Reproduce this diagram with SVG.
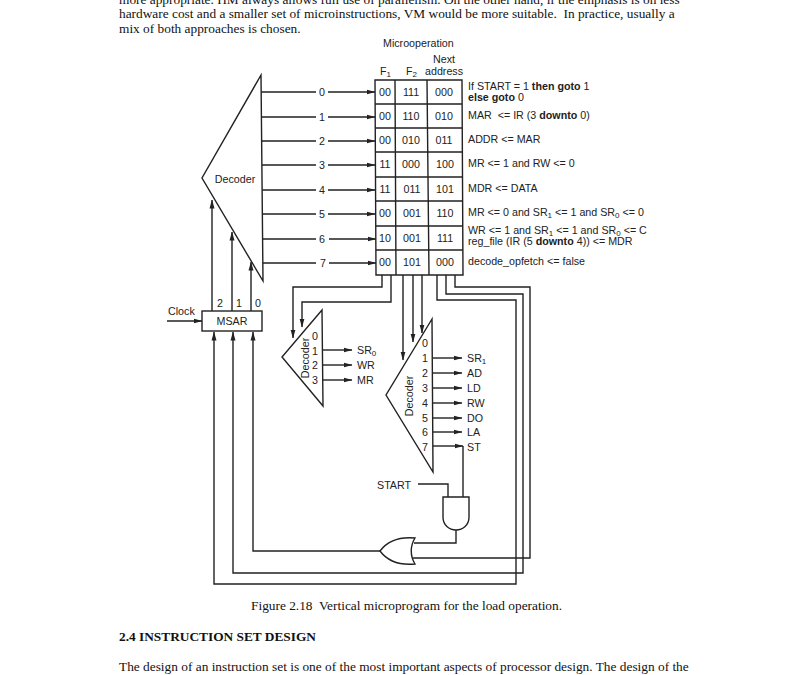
<svg xmlns="http://www.w3.org/2000/svg" width="806" height="675" viewBox="0 0 806 675">
<style>
.s{font-family:"Liberation Serif","Times New Roman",serif;font-size:13.35px;fill:#111;white-space:pre}
.t{font-family:"Liberation Sans",Arial,sans-serif;font-size:10.7px;fill:#222}
.c{text-anchor:middle}
.b{font-weight:bold}
.l{fill:none;stroke:#222;stroke-width:1.4}
.n{fill:#fff;stroke:#222;stroke-width:1.4}
</style>
<defs><marker id="a" markerWidth="9" markerHeight="6" refX="8.5" refY="3" orient="auto" markerUnits="userSpaceOnUse"><path d="M0 0.5L9 3L0 5.5Z" fill="#222"/></marker></defs>
<rect width="806" height="675" fill="#fff"/>
<g id="page-text">
<text class="s" x="119" y="4">more appropriate. HM always allows full use of parallelism. On the other hand, if the emphasis is on less</text>
<text class="s" x="119" y="18">hardware cost and a smaller set of microinstructions, VM would be more suitable.  In practice, usually a</text>
<text class="s" x="119" y="33">mix of both approaches is chosen.</text>
<text class="s" x="251" y="610">Figure 2.18  Vertical microprogram for the load operation.</text>
<text class="s b" x="119" y="641">2.4 INSTRUCTION SET DESIGN</text>
<text class="s" x="119" y="671">The design of an instruction set is one of the most important aspects of processor design. The design of the</text>
</g>
<g id="connectors">
<path class="l" d="M261 92H316M328 92H375" marker-end="url(#a)"/>
<path class="l" d="M261 117H316M328 117H375" marker-end="url(#a)"/>
<path class="l" d="M261 141H316M328 141H375" marker-end="url(#a)"/>
<path class="l" d="M261 165H316M328 165H375" marker-end="url(#a)"/>
<path class="l" d="M261 190H316M328 190H375" marker-end="url(#a)"/>
<path class="l" d="M261 214H316M328 214H375" marker-end="url(#a)"/>
<path class="l" d="M262 239H316M329 239H376" marker-end="url(#a)"/>
<path class="l" d="M262 263H316M329 263H376" marker-end="url(#a)"/>
<path class="l" d="M212 311V200" marker-end="url(#a)"/>
<path class="l" d="M232 311V232" marker-end="url(#a)"/>
<path class="l" d="M251 311V262" marker-end="url(#a)"/>
<path class="l" d="M167 321H202" marker-end="url(#a)"/>
<path class="l" d="M382 275V287H293V338" marker-end="url(#a)"/>
<path class="l" d="M391 275V302H302V327" marker-end="url(#a)"/>
<path class="l" d="M403 275V360" marker-end="url(#a)"/>
<path class="l" d="M413 275V342" marker-end="url(#a)"/>
<path class="l" d="M422 275V333" marker-end="url(#a)"/>
<path class="l" d="M437 275V300H516V584H214V332" marker-end="url(#a)"/>
<path class="l" d="M446 275V294H523V573H233V332" marker-end="url(#a)"/>
<path class="l" d="M455 275V287H530V558H413"/>
<path class="l" d="M380 551H253V332" marker-end="url(#a)"/>
<path class="l" d="M323 350H352" marker-end="url(#a)"/>
<path class="l" d="M323 365H352" marker-end="url(#a)"/>
<path class="l" d="M323 380H352" marker-end="url(#a)"/>
<path class="l" d="M433 358H462" marker-end="url(#a)"/>
<path class="l" d="M433 373H462" marker-end="url(#a)"/>
<path class="l" d="M433 388H462" marker-end="url(#a)"/>
<path class="l" d="M433 403H462" marker-end="url(#a)"/>
<path class="l" d="M433 418H462" marker-end="url(#a)"/>
<path class="l" d="M433 432H462" marker-end="url(#a)"/>
<path class="l" d="M433 446H463" marker-end="url(#a)"/>
<path class="l" d="M463 446V497"/>
<path class="l" d="M418 484H448V497"/>
<path class="l" d="M456 530V543H414"/>
</g>
<g id="decoder-main">
<path class="n" d="M261 75L202 178L263 281Z"/>
<text class="t c" x="235" y="183">Decoder</text>
<g class="t c"><text x="322" y="96">0</text><text x="322" y="121">1</text><text x="322" y="145">2</text><text x="322" y="169">3</text><text x="322" y="194">4</text><text x="322" y="218">5</text><text x="322" y="243">6</text><text x="323" y="267">7</text></g>
</g>
<g id="msar">
<rect class="n" x="202" y="311" width="60" height="20"/>
<text class="t c" x="232" y="325">MSAR</text>
<text class="t c" x="220" y="307">2</text><text class="t c" x="239" y="307">1</text><text class="t c" x="258" y="307">0</text>
<text class="t" x="168" y="315">Clock</text>
</g>
<g id="rom-table">
<path class="n" d="M375 80H462L463 275H376Z"/>
<path class="l" d="M375 104H462M375 128H462M375 152H462M375 177H463M375 201H463M376 226H463M376 250H463M395 80L396 275M427 80L429 275"/>
<g class="t c">
<text x="385" y="96">00</text><text x="411" y="96">111</text><text x="444" y="96">000</text>
<text x="385" y="120">00</text><text x="411" y="120">110</text><text x="444" y="120">010</text>
<text x="385" y="144">00</text><text x="411" y="144">010</text><text x="444" y="144">011</text>
<text x="385" y="168">11</text><text x="411" y="168">000</text><text x="445" y="168">100</text>
<text x="385" y="193">11</text><text x="412" y="193">011</text><text x="445" y="193">101</text>
<text x="385" y="217">00</text><text x="412" y="217">001</text><text x="445" y="217">110</text>
<text x="385" y="242">10</text><text x="412" y="242">001</text><text x="445" y="242">111</text>
<text x="385" y="266">00</text><text x="412" y="266">101</text><text x="445" y="266">000</text>
</g>
<text class="t" x="383" y="47">Microoperation</text>
<text class="t" x="433" y="63">Next</text>
<text class="t" x="425" y="75">address</text>
<text class="t" x="380" y="75">F<tspan font-size="8" dy="2">1</tspan></text>
<text class="t" x="406" y="75">F<tspan font-size="8" dy="2">2</tspan></text>
<g class="t">
<text x="468" y="90">If START = 1 <tspan class="b">then goto</tspan> 1</text>
<text x="468" y="101"><tspan class="b">else goto</tspan> 0</text>
<text x="468" y="119" style="white-space:pre">MAR  &lt;= IR (3 <tspan class="b">downto</tspan> 0)</text>
<text x="468" y="143">ADDR &lt;= MAR</text>
<text x="468" y="167">MR &lt;= 1 and RW &lt;= 0</text>
<text x="468" y="192">MDR &lt;= DATA</text>
<text x="468" y="216">MR &lt;= 0 and SR<tspan font-size="8" dy="2">1</tspan><tspan dy="-2"> &lt;= 1 and SR</tspan><tspan font-size="8" dy="2">0</tspan><tspan dy="-2"> &lt;= 0</tspan></text>
<text x="468" y="234">WR &lt;= 1 and SR<tspan font-size="8" dy="2">1</tspan><tspan dy="-2"> &lt;= 1 and SR</tspan><tspan font-size="8" dy="2">0</tspan><tspan dy="-2"> &lt;= C</tspan></text>
<text x="468" y="245">reg_file (IR (5 <tspan class="b">downto</tspan> 4)) &lt;= MDR</text>
<text x="468" y="265">decode_opfetch &lt;= false</text>
</g>
</g>
<g id="decoder-small">
<path class="n" d="M322 310L282 357L323 406Z"/>
<text class="t c" transform="translate(309 358) rotate(-90)">Decoder</text>
<g class="t c"><text x="315" y="340">0</text><text x="315" y="355">1</text><text x="315" y="369">2</text><text x="315" y="384">3</text></g>
<text class="t" x="357" y="354">SR<tspan font-size="8" dy="2">0</tspan></text>
<text class="t" x="357" y="369">WR</text>
<text class="t" x="357" y="384">MR</text>
</g>
<g id="decoder-large">
<path class="n" d="M432 319L386 395L433 472Z"/>
<text class="t c" transform="translate(413 396) rotate(-90)">Decoder</text>
<g class="t c"><text x="425" y="347">0</text><text x="425" y="362">1</text><text x="425" y="377">2</text><text x="425" y="392">3</text><text x="425" y="407">4</text><text x="425" y="422">5</text><text x="425" y="436">6</text><text x="425" y="451">7</text></g>
<text class="t" x="467" y="362">SR<tspan font-size="8" dy="2">1</tspan></text>
<text class="t" x="467" y="377">AD</text>
<text class="t" x="467" y="392">LD</text>
<text class="t" x="467" y="407">RW</text>
<text class="t" x="467" y="422">DO</text>
<text class="t" x="467" y="436">LA</text>
<text class="t" x="467" y="451">ST</text>
</g>
<g id="and-gate">
<text class="t" x="377" y="489">START</text>
<path class="n" d="M443 497H469V517C469 525 463 530 456 530C449 530 443 525 443 517Z"/>
</g>
<g id="or-gate">
<path class="n" d="M415 538C404 537 389 539 380 551C389 563 404 565 415 564C410 556 410 546 415 538Z"/>
</g>
</svg>
